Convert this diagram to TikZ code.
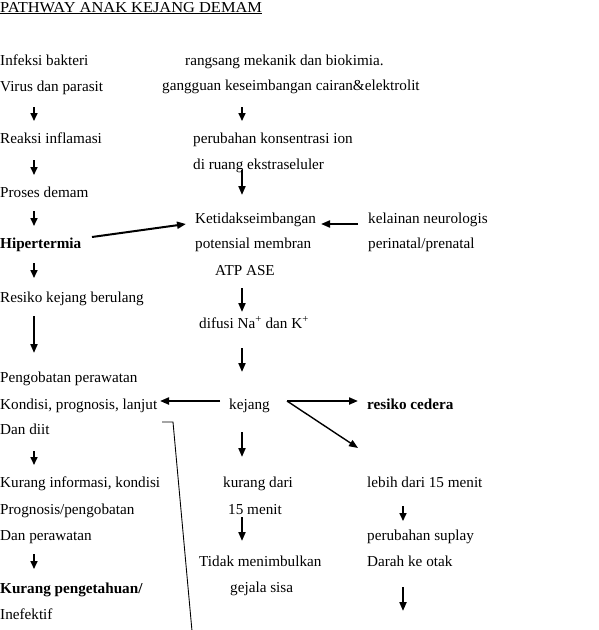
\documentclass[tikz,border=0pt]{standalone}
\usepackage{fontspec}
\setmainfont{Liberation Serif}
\usetikzlibrary{arrows.meta}
\begin{document}
\begin{tikzpicture}[x=1pt,y=-1pt,
  txt/.style={anchor=base west,inner sep=0pt,font=\fontsize{15.2}{18}\selectfont},
  bld/.style={anchor=base west,inner sep=0pt,font=\fontsize{15.2}{18}\selectfont\bfseries},
  arrbig/.style={line width=2pt,-{Triangle[length=9pt,width=7pt]}},
  arrsmall/.style={line width=1.6pt,-{Triangle[length=8pt,width=7pt]}},
  arrdiag/.style={line width=1.4pt,-{Triangle[length=9pt,width=7pt]}},
  thinline/.style={line width=0.9pt}]
\useasboundingbox (0,0) rectangle (598,630);

% title
\node[txt] (title) at (0,12) {\scalebox{1.08}[1]{\underline{PATHWAY ANAK KEJANG DEMAM}}};

% left column
\node[txt] (infeksi) at (0,65) {Infeksi bakteri};
\node[txt] (virus) at (0,91) {Virus dan parasit};
\node[txt] (reaksi) at (0,143) {Reaksi inflamasi};
\node[txt] (proses) at (0,197) {Proses demam};
\node[bld] (hiper) at (0,248) {Hipertermia};
\node[txt] (resiko) at (0,302) {Resiko kejang berulang};
\node[txt] (pengob) at (0,382) {Pengobatan perawatan};
\node[txt] (kondisi) at (0,409) {Kondisi, prognosis, lanjut};
\node[txt] (diit) at (0,434) {Dan diit};
\node[txt] (kurinf) at (0,487) {Kurang informasi, kondisi};
\node[txt] (progn) at (0,514) {Prognosis/pengobatan};
\node[txt] (danper) at (0,540) {Dan perawatan};
\node[bld] (kurpeng) at (0,593) {Kurang pengetahuan/};
\node[txt] (inef) at (0,619) {Inefektif};

% middle column
\node[txt] (rangsang) at (185,65) {rangsang mekanik dan biokimia.};
\node[txt] (gangguan) at (162,90) {gangguan keseimbangan cairan\&elektrolit};
\node[txt] (perubahan) at (193,143) {perubahan konsentrasi ion};
\node[txt] (diruang) at (193,169) {di ruang ekstraseluler};
\node[txt] (ketidak) at (195,223) {Ketidakseimbangan};
\node[txt] (potensial) at (195,248) {potensial membran};
\node[txt] (atp) at (215,275) {ATP ASE};
\node[txt] (difusi) at (199,328) {difusi Na\textsuperscript{+} dan K\textsuperscript{+}};
\node[txt] (kejang) at (229,409) {kejang};
\node[txt] (kurdari) at (223,487) {kurang dari};
\node[txt] (limabelas) at (228,514) {15 menit};
\node[txt] (tidak) at (199,566) {Tidak menimbulkan};
\node[txt] (gejala) at (230,592) {gejala sisa};

% right column
\node[txt] (kelainan) at (368,223) {kelainan neurologis};
\node[txt] (perinatal) at (368,248) {perinatal/prenatal};
\node[bld] (cedera) at (367,409) {resiko cedera};
\node[txt] (lebih) at (367,487) {lebih dari 15 menit};
\node[txt] (suplay) at (367,540) {perubahan suplay};
\node[txt] (darah) at (367,566) {Darah ke otak};

% connector end points
\coordinate (l1s) at (34,107); \coordinate (l1e) at (34,121);
\coordinate (l2s) at (34,160); \coordinate (l2e) at (34,175);
\coordinate (l3s) at (34,211); \coordinate (l3e) at (34,226);
\coordinate (l4s) at (34,263); \coordinate (l4e) at (34,278);
\coordinate (l5s) at (34,316); \coordinate (l5e) at (34,353);
\coordinate (l6s) at (34,451); \coordinate (l6e) at (34,465);
\coordinate (l7s) at (34,554); \coordinate (l7e) at (34,569);

\coordinate (m1s) at (242,107); \coordinate (m1e) at (242,121);
\coordinate (m2s) at (242,170); \coordinate (m2e) at (242,195);
\coordinate (m3s) at (242,288); \coordinate (m3e) at (242,312);
\coordinate (m4s) at (242,348); \coordinate (m4e) at (242,372);
\coordinate (m5s) at (242,432); \coordinate (m5e) at (242,457);
\coordinate (m6s) at (242,517); \coordinate (m6e) at (242,541);

\coordinate (r1s) at (403,506); \coordinate (r1e) at (403,521);
\coordinate (r2s) at (403,587); \coordinate (r2e) at (403,611);

\coordinate (hipS) at (92,237); \coordinate (hipE) at (186,224);
\coordinate (kelS) at (358,224); \coordinate (kelE) at (321,224);
\coordinate (kejL) at (220,401); \coordinate (kondE) at (160,401);
\coordinate (kejR) at (287,401); \coordinate (cedE) at (358,401);
\coordinate (lebE) at (358,448);
\coordinate (lnA) at (162,422); \coordinate (lnB) at (173,422); \coordinate (lnC) at (192,631);

% left arrows
\draw[arrsmall] (l1s) -- (l1e);
\draw[arrsmall] (l2s) -- (l2e);
\draw[arrsmall] (l3s) -- (l3e);
\draw[arrsmall] (l4s) -- (l4e);
\draw[arrbig] (l5s) -- (l5e);
\draw[arrsmall] (l6s) -- (l6e);
\draw[arrsmall] (l7s) -- (l7e);

% middle arrows
\draw[arrsmall] (m1s) -- (m1e);
\draw[arrbig] (m2s) -- (m2e);
\draw[arrbig] (m3s) -- (m3e);
\draw[arrbig] (m4s) -- (m4e);
\draw[arrbig] (m5s) -- (m5e);
\draw[arrbig] (m6s) -- (m6e);

% right arrows
\draw[arrsmall] (r1s) -- (r1e);
\draw[arrbig] (r2s) -- (r2e);

% cross arrows
\draw[arrbig] (hipS) -- (hipE);
\draw[arrbig] (kelS) -- (kelE);
\draw[arrbig] (kejL) -- (kondE);
\draw[arrbig] (kejR) -- (cedE);
\draw[arrdiag] (kejR) -- (lebE);
\draw[thinline] (lnA) -- (lnB) -- (lnC);
\end{tikzpicture}
\end{document}
